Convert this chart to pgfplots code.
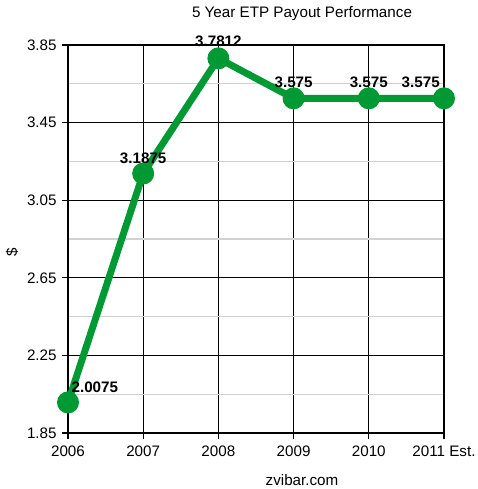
\documentclass[border=0pt]{standalone}
\usepackage{pgfplots}
\pgfplotsset{compat=1.18}
\usepackage{fontspec}
\setmainfont{Liberation Sans}
\definecolor{lgreen}{RGB}{0,153,51}
\begin{document}
\begin{tikzpicture}[x=1pt,y=1pt]
\path[use as bounding box] (-51pt,-42pt) rectangle (307.5pt,324.75pt);
\begin{axis}[
  at={(0,0)}, anchor=south west,
  scale only axis, width=282pt, height=291pt,
  xmin=0, xmax=5, ymin=1.85, ymax=3.85,
  xtick={0,1,2,3,4,5},
  xticklabels={2006,2007,2008,2009,2010,2011 Est.},
  ytick={1.85,2.25,2.65,3.05,3.45,3.85},
  yticklabels={1.85,2.25,2.65,3.05,3.45,3.85},
  minor ytick={2.05,2.45,2.85,3.25,3.65},
  grid=both,
  major grid style={black, line width=0.9pt},
  minor grid style={gray!35, line width=0.8pt},
  axis line style={black, line width=0.9pt},
  tick align=outside, tick pos=left,
  major tick length=4.5pt, minor tick length=0pt,
  tick style={black, line width=0.9pt},
  tick label style={font=\fontsize{11.4pt}{13pt}\selectfont},
  xticklabel style={yshift=-2pt},
  yticklabel style={xshift=-0.5pt},
  clip=false,
]
\addplot[color=lgreen, line width=5.2pt, mark=*, mark size=5.6pt, mark options={fill=lgreen, draw=none}]
  coordinates {(0,2.0075) (1,3.1875) (2,3.7812) (3,3.575) (4,3.575) (5,3.575)};
\begin{scope}[every node/.style={font=\bfseries\fontsize{11.4pt}{13pt}\selectfont, inner sep=0pt}]
\node[anchor=west] at ([yshift=11.5pt,xshift=2.5pt]axis cs:0,2.0075) {2.0075};
\node at ([yshift=11.5pt]axis cs:1,3.1875) {3.1875};
\node at ([yshift=12.5pt]axis cs:2,3.7812) {3.7812};
\node at ([yshift=12pt]axis cs:3,3.575) {3.575};
\node at ([yshift=12pt]axis cs:4,3.575) {3.575};
\node[anchor=east] at ([yshift=12pt,xshift=-3pt]axis cs:5,3.575) {3.575};
\end{scope}
\end{axis}
\node[font=\fontsize{11.4pt}{13pt}\selectfont] at (175.5pt,314.25pt) {5 Year ETP Payout Performance};
\node[font=\fontsize{11.4pt}{13pt}\selectfont] at (175.5pt,-35.25pt) {zvibar.com};
\node[font=\fontsize{11.4pt}{13pt}\selectfont, rotate=90] at (-42pt,135.75pt) {\$};
\end{tikzpicture}
\end{document}
